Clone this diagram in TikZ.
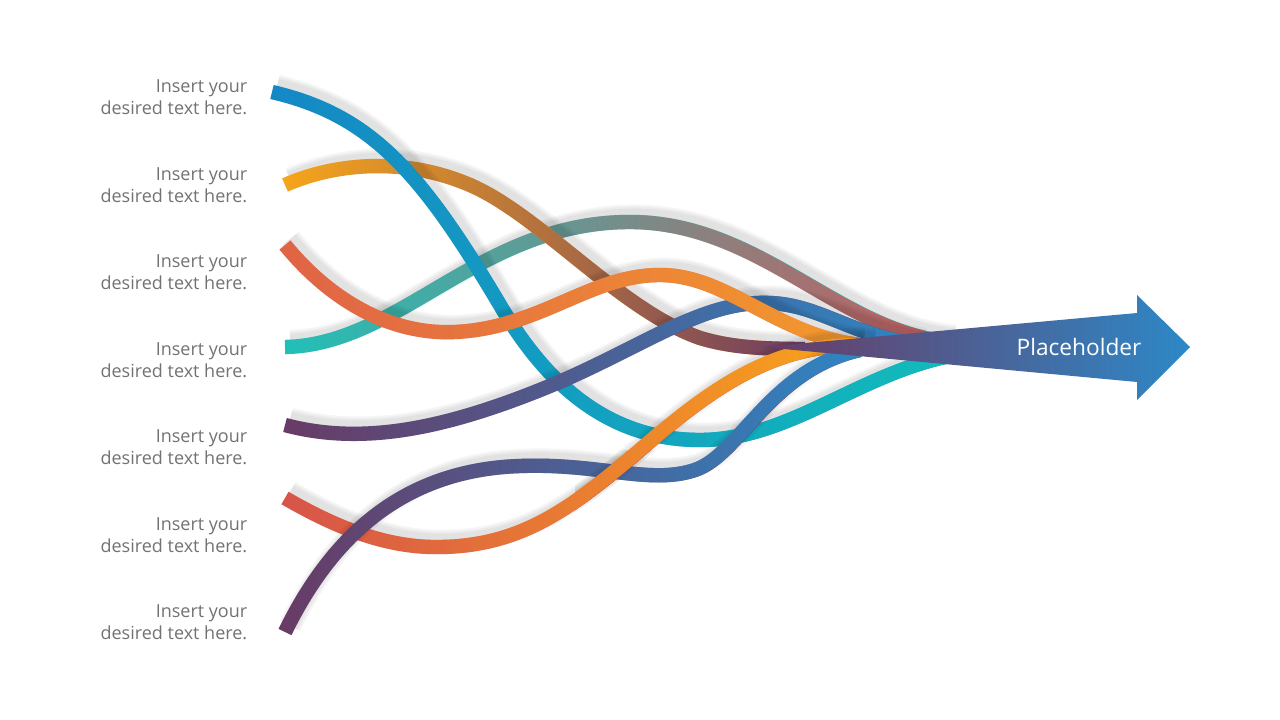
\documentclass[tikz,border=0pt]{standalone}
\usepackage{fontspec}
\setmainfont{Open Sans}
\usetikzlibrary{fadings}
\tikzfading[name=fadein, left color=transparent!100, right color=transparent!0]
\tikzfading[name=fadelate, left color=transparent!100, middle color=transparent!85, right color=transparent!0]
\tikzfading[name=fademid, left color=transparent!100, middle color=transparent!0, right color=transparent!100]
\definecolor{blueA}{HTML}{1587C6}
\definecolor{tealA}{HTML}{12BDBA}
\definecolor{orangeY}{HTML}{FBA819}
\definecolor{plum}{HTML}{6A3A64}
\definecolor{redO}{HTML}{E06347}
\definecolor{orangeB}{HTML}{F59C2C}
\definecolor{tealB}{HTML}{1DC3BA}
\definecolor{redB}{HTML}{CD5A5C}
\definecolor{greyM}{HTML}{9A9694}
\definecolor{blueB}{HTML}{2D88C7}
\definecolor{redC}{HTML}{D7524B}
\definecolor{txtgray}{HTML}{727272}
\newcommand\curveone[1]{\draw[#1] (260,70) (965,460) (272,92) .. controls (370,115) and (420,170) .. (500,305) .. controls (540,373) and (600,440) .. (700,440) .. controls (790,440) and (860,372) .. (955,355);}
\newcommand\curvetwo[1]{\draw[#1] (275,145) (815,365) (285,185) .. controls (330,165) and (400,155) .. (470,185) .. controls (540,215) and (620,310) .. (700,338) .. controls (730,347) and (760,349) .. (805,349);}
\newcommand\curvethree[1]{\draw[#1] (275,230) (880,350) (285,245) .. controls (330,300) and (390,335) .. (455,332) .. controls (540,328) and (590,275) .. (660,275) .. controls (730,275) and (780,340) .. (870,346);}
\newcommand\curvefour[1]{\draw[#1] (275,205) (960,365) (285,347) .. controls (400,345) and (480,222) .. (630,222) .. controls (760,222) and (840,332) .. (950,342);}
\newcommand\curvefive[1]{\draw[#1] (275,290) (930,450) (285,425) .. controls (360,445) and (440,430) .. (540,390) .. controls (640,350) and (700,300) .. (770,303) .. controls (820,305) and (850,335) .. (920,345);}
\newcommand\curvesix[1]{\draw[#1] (275,330) (870,560) (285,498) .. controls (340,530) and (390,548) .. (440,547) .. controls (520,546) and (570,510) .. (640,450) .. controls (710,390) and (770,345) .. (860,345);}
\newcommand\curveseven[1]{\draw[#1] (275,335) (870,645) (285,632) .. controls (330,540) and (400,470) .. (520,466) .. controls (600,463) and (650,485) .. (695,470) .. controls (740,455) and (770,370) .. (860,350);}
\newcommand\shadowof[1]{#1{shad=17pt}#1{shad=14pt}#1{shad=11pt}}
\newcommand\ribbon[4]{\shadowof#1#1{curve, draw=#2}#1{curve, draw=#3, path fading=#4}}
\begin{document}
\begin{tikzpicture}[x=0.75pt, y=-0.75pt,
  curve/.style={line width=10.8pt, line cap=butt},
  shad/.style={line width=#1, draw=black, draw opacity=0.04, line cap=butt, shift={(5,-6)}},
  lbl/.style={anchor=east, align=right, inner sep=0pt, text=txtgray, font=\fontsize{13.5}{16.5}\selectfont},
  arrowbody/.style={left color=plum, right color=blueB, draw=none}]
\useasboundingbox (0,0) rectangle (1280,720);
% ribbons, bottom to top
\shadowof\curvefour
\curvefour{curve, draw=tealB}
\curvefour{curve, draw=greyM, path fading=fademid}
\curvefour{curve, draw=redB, path fading=fadelate}
\ribbon\curvetwo{orangeY}{plum}{fadelate}
\ribbon\curveone{blueA}{tealA}{fadein}
\ribbon\curvefive{plum}{blueB}{fadein}
\ribbon\curvethree{redO}{orangeB}{fadein}
\ribbon\curvesix{redC}{orangeY}{fadein}
\ribbon\curveseven{plum}{blueB}{fadein}
\begin{scope}
  \clip (575,450) rectangle (655,512);
  \ribbon\curvesix{redC}{orangeY}{fadein}
\end{scope}
% arrow
\path[arrowbody] (762,347) -- (1137,313) -- (1137,295) -- (1190,347) -- (1137,400) -- (1137,382) -- cycle;
\node[text=white, font=\fontsize{17}{20}\selectfont, inner sep=0pt] (ph) at (1079,347) {Placeholder};
% labels
\node[lbl] (t1) at (247.5,97.5) {Insert your\\desired text here.};
\node[lbl] (t2) at (247.5,185) {Insert your\\desired text here.};
\node[lbl] (t3) at (247.5,272.5) {Insert your\\desired text here.};
\node[lbl] (t4) at (247.5,360) {Insert your\\desired text here.};
\node[lbl] (t5) at (247.5,447.5) {Insert your\\desired text here.};
\node[lbl] (t6) at (247.5,535) {Insert your\\desired text here.};
\node[lbl] (t7) at (247.5,622.5) {Insert your\\desired text here.};
\end{tikzpicture}
\end{document}
